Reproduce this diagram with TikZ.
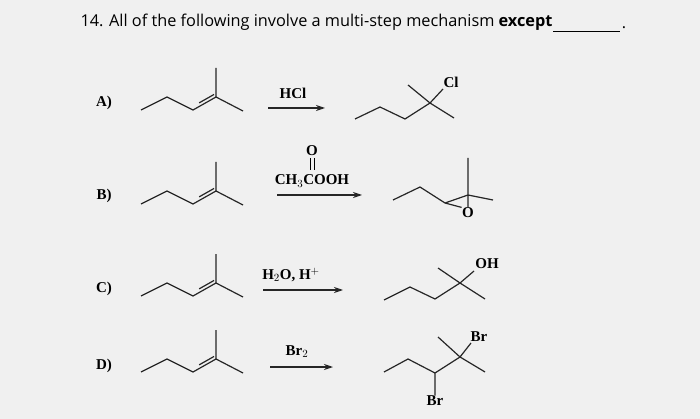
\documentclass[tikz,border=0pt]{standalone}
\usepackage{fontspec}
\usetikzlibrary{calc,arrows.meta}
\setmainfont{Open Sans}
\newfontfamily\chem{Liberation Serif}
\begin{document}
\begin{tikzpicture}[x=1pt,y=-1pt,line width=1.1pt,
  bond/.style={draw=black!85,line width=1.2pt,line join=miter},
  arr/.style={draw=black!85,line width=1.2pt,-{Stealth[length=9pt,width=6pt]}},
  lab/.style={font=\chem\bfseries\fontsize{15}{15}\selectfont,inner sep=0pt},
  opt/.style={font=\chem\fontsize{15}{15}\selectfont\bfseries,inner sep=0pt}]
\fill[gray!12] (0,0) rectangle (700,419);
\useasboundingbox (0,0) rectangle (700,419);
\node[anchor=west,inner sep=0pt,font=\fontsize{16.3}{16}\selectfont] (title) at (80,22) {14. All of the following involve a multi-step mechanism \textbf{except}};
\coordinate (b1) at (553,31); \coordinate (b2) at (620,31);
\draw[line width=0.8pt] (b1) -- (b2);
\node[inner sep=0pt,font=\fontsize{16}{16}\selectfont] (dot) at (624,28) {.};
\node[opt] (la) at (104,103) {A)};
\node[opt] (lb) at (104,196) {B)};
\node[opt] (lc) at (104,289) {C)};
\node[opt] (ld) at (104,366) {D)};
% reactants
\foreach \dy/\n in {0/a,94/b,186/c,262/d}{
  \begin{scope}[yshift=-\dy]
  \coordinate (\n1) at (141,110); \coordinate (\n2) at (167,97);
  \coordinate (\n3) at (193,110); \coordinate (\n4) at (216,97);
  \coordinate (\n5) at (216,68); \coordinate (\n6) at (243,111);
  \draw[bond] (\n1)--(\n2)--(\n3)--(\n4)--(\n5) (\n4)--(\n6);
  \draw[bond] ($(\n3)!0.2!(\n4)+(1.5,-4.5)$) -- ($(\n3)!0.85!(\n4)+(1.5,-4.5)$);
  \end{scope}}
% arrows
\coordinate (aa1) at (268,108); \coordinate (aa2) at (325,108);
\draw[arr] (aa1)--(aa2);
\node[lab] (hcl) at (293,93) {HCl};
\coordinate (ab1) at (277,195); \coordinate (ab2) at (362,195);
\draw[arr] (ab1)--(ab2);
\node[lab] (rb) at (312,181) {CH$_3$COOH};
\node[lab] (ob) at (312,151) {O};
\draw[line width=0.8pt] (310,158)--(310,170) (314,158)--(314,170);
\coordinate (ac1) at (263,290); \coordinate (ac2) at (343,290);
\draw[arr] (ac1)--(ac2);
\node[lab] (rc) at (291,275) {H$_2$O, H$^+$};
\coordinate (ad1) at (270,367); \coordinate (ad2) at (333,367);
\draw[arr] (ad1)--(ad2);
\node[lab] (rd) at (297,352) {Br$_2$};
% product A
\coordinate (p1) at (355,119); \coordinate (p2) at (380,107); \coordinate (p3) at (405,119);
\coordinate (p4) at (430,103); \coordinate (p5) at (408,85); \coordinate (p6) at (454,118);
\node[lab] (cl) at (451,82) {Cl};
\draw[bond] (p1)--(p2)--(p3)--(p4)--(p5) (p4)--(p6) (p4)--(443,89);
% product B
\coordinate (q1) at (393,200); \coordinate (q2) at (420,187); \coordinate (q3) at (445,203);
\coordinate (q4) at (468,195); \coordinate (q5) at (468,158); \coordinate (q6) at (493,200);
\node[lab] (oe) at (468,213) {O};
\draw[bond] (q1)--(q2)--(q3)--(q4)--(q5) (q4)--(q6) (q3)--(oe.north west) (q4)--(oe.north);
% product C
\coordinate (r1) at (384,300); \coordinate (r2) at (410,287); \coordinate (r3) at (435,299);
\coordinate (r4) at (460,283); \coordinate (r5) at (438,268); \coordinate (r6) at (485,299);
\node[lab] (oh) at (487,264) {OH};
\draw[bond] (r1)--(r2)--(r3)--(r4)--(r5) (r4)--(r6) (r4)--(474,271);
% product D
\coordinate (s1) at (384,372); \coordinate (s2) at (408,359); \coordinate (s3) at (435,373);
\coordinate (s4) at (460,357); \coordinate (s5) at (438,337); \coordinate (s6) at (485,372);
\node[lab] (br1) at (435,401) {Br};
\node[lab] (br2) at (479,337) {Br};
\draw[bond] (s1)--(s2)--(s3)--(s4)--(s5) (s4)--(s6) (s3)--(br1.north) (s4)--(471,343);
\end{tikzpicture}
\end{document}
